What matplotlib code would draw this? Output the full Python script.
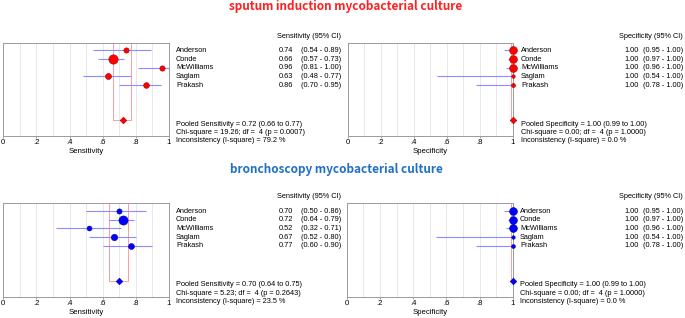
import matplotlib.pyplot as plt
from matplotlib.transforms import blended_transform_factory

studies = ['Anderson', 'Conde', 'McWilliams', 'Saglam', 'Prakash']

# sputum induction
sput_sens = [0.74, 0.66, 0.96, 0.63, 0.86]
sput_sens_lo = [0.54, 0.57, 0.81, 0.48, 0.70]
sput_sens_hi = [0.89, 0.73, 1.00, 0.77, 0.95]
sput_sens_w = [13.3, 41.0, 13.3, 17.1, 15.3]
sput_sens_pool = [0.72, 0.66, 0.77]
sput_sens_stats = ['Chi-square = 19.26; df =  4 (p = 0.0007)', 'Inconsistency (I-square) = 79.2 %']

sput_spec = [1.00, 1.00, 1.00, 1.00, 1.00]
sput_spec_lo = [0.95, 0.97, 0.96, 0.54, 0.78]
sput_spec_hi = [1.00, 1.00, 1.00, 1.00, 1.00]
sput_spec_w = [29.0, 29.0, 29.0, 6.0, 7.5]
sput_spec_pool = [1.00, 0.99, 1.00]
sput_spec_stats = ['Chi-square = 0.00; df =  4 (p = 1.0000)', 'Inconsistency (I-square) = 0.0 %']

# bronchoscopy
bron_sens = [0.70, 0.72, 0.52, 0.67, 0.77]
bron_sens_lo = [0.50, 0.64, 0.32, 0.52, 0.60]
bron_sens_hi = [0.86, 0.79, 0.71, 0.80, 0.90]
bron_sens_w = [12.9, 39.6, 11.5, 19.4, 16.6]
bron_sens_pool = [0.70, 0.64, 0.75]
bron_sens_stats = ['Chi-square = 5.23; df =  4 (p = 0.2643)', 'Inconsistency (I-square) = 23.5 %']

bron_spec = [1.00, 1.00, 1.00, 1.00, 1.00]
bron_spec_lo = [0.95, 0.97, 0.96, 0.54, 0.78]
bron_spec_hi = [1.00, 1.00, 1.00, 1.00, 1.00]
bron_spec_w = [29.0, 29.0, 29.0, 5.8, 7.1]
bron_spec_pool = [1.00, 0.99, 1.00]
bron_spec_stats = ['Chi-square = 0.00; df =  4 (p = 1.0000)', 'Inconsistency (I-square) = 0.0 %']

tick_vals = [0, 0.2, 0.4, 0.6, 0.8, 1.0]
tick_labels = ['0', '.2', '.4', '.6', '.8', '1']

W, H = 685, 318
plt.rcParams['font.family'] = ['Liberation Sans', 'DejaVu Sans']
fig = plt.figure(figsize=(W / 100, H / 100), dpi=100)
FS = 5.3


def fx(x):
    return x / W


def fy(y):
    return 1 - y / H


def forest(box, txt, kind, est, lo, hi, w, pool, stats, dot_color, edge_color):
    l, r, t, b = box
    ax = fig.add_axes([fx(l), fy(b), (r - l) / W, (b - t) / H])
    rows = list(range(1, len(est) + 1))
    pool_row = 9.1
    ax.set_xlim(0, 1)
    ax.set_ylim(10.9, 0.1)
    for g in [i / 10 for i in range(1, 10)]:
        ax.axvline(g, color='#e4e4e4', lw=0.6, zorder=0)
    # pooled CI outline
    ax.plot([pool[1], pool[1], pool[2], pool[2]], [0.1, pool_row, pool_row, 0.1],
            color='#ff9c9c', lw=0.7, zorder=1, clip_on=False)
    ax.hlines(rows, lo, hi, color='#8c8cff', lw=0.8, zorder=2)
    for y, e, wt in zip(rows, est, w):
        ax.plot(e, y, 'o', ms=1.45 * wt ** 0.5 * 0.72, color=dot_color,
                mec=edge_color, mew=0.4, zorder=3, clip_on=False)
    ax.plot(pool[0], pool_row, 'D', ms=3.4, color=dot_color, mec=edge_color,
            mew=0.4, zorder=3, clip_on=False)
    ax.set_xticks(tick_vals, tick_labels)
    ax.set_yticks([])
    ax.tick_params(axis='x', length=1.5, width=0.5, pad=1, labelsize=5.6, color='#808080')
    for s in ax.spines.values():
        s.set_color('#9a9a9a')
        s.set_linewidth(0.7)
    ax.set_xlabel(kind, fontsize=5.6, labelpad=1)

    name_x, val_x, ci_x, head_y = txt
    tr = blended_transform_factory(fig.transFigure, ax.transData)
    fig.text(fx(ci_x + 40), fy(head_y), f'{kind} (95% CI)', fontsize=FS, ha='right', va='center')
    for y, name, e, a, c in zip(rows, studies, est, lo, hi):
        fig.text(fx(name_x), y, name, transform=tr, fontsize=FS, va='center')
        fig.text(fx(val_x), y, f'{e:.2f}', transform=tr, fontsize=FS, va='center', ha='right')
        fig.text(fx(ci_x), y, f'({a:.2f} - {c:.2f})', transform=tr, fontsize=FS, va='center')
    lines = [f'Pooled {kind} = {pool[0]:.2f} ({pool[1]:.2f} to {pool[2]:.2f})'] + stats
    py = ax.transData.transform((0, pool_row))[1]
    base = H - py + 3.7
    for i, s in enumerate(lines):
        fig.text(fx(name_x), fy(base + i * 8.4), s, fontsize=FS, va='center')
    return ax


forest((3.3, 169, 42.7, 136), (176, 293, 301, 36.7), 'Sensitivity', sput_sens, sput_sens_lo,
       sput_sens_hi, sput_sens_w, sput_sens_pool, sput_sens_stats, 'red', '#a00000')
forest((348, 512.7, 42.7, 136), (521, 638.7, 643, 36.7), 'Specificity', sput_spec, sput_spec_lo,
       sput_spec_hi, sput_spec_w, sput_spec_pool, sput_spec_stats, 'red', '#a00000')
forest((3.3, 169, 203.3, 296.7), (176, 293.3, 301, 196.7), 'Sensitivity', bron_sens, bron_sens_lo,
       bron_sens_hi, bron_sens_w, bron_sens_pool, bron_sens_stats, '#0000ff', '#000090')
forest((346.7, 512.7, 203.3, 296.7), (520, 638.3, 643, 196.7), 'Specificity', bron_spec, bron_spec_lo,
       bron_spec_hi, bron_spec_w, bron_spec_pool, bron_spec_stats, '#0000ff', '#000090')

fig.text(fx(346), fy(6.5), 'sputum induction mycobacterial culture', color='#ff2020',
         fontsize=8.5, fontweight='bold', family=['Noto Sans CJK SC', 'DejaVu Sans'],
         ha='center', va='center')
fig.text(fx(336), fy(170), 'bronchoscopy mycobacterial culture', color='#2070c8',
         fontsize=8.5, fontweight='bold', family=['Noto Sans CJK SC', 'DejaVu Sans'],
         ha='center', va='center')

fig.savefig('out.png', dpi=100)
